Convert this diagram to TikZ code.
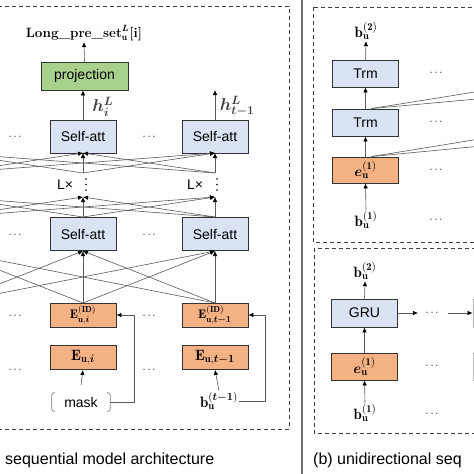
\documentclass[tikz,border=0pt]{standalone}
\usepackage{amsmath}
\usepackage{bm}
\usepackage{fontspec}
\setsansfont{Liberation Sans}
\usetikzlibrary{arrows.meta,positioning}

\definecolor{attblue}{HTML}{DAE3F3}
\definecolor{projgreen}{HTML}{A9D18E}
\definecolor{embor}{HTML}{F4B183}

\tikzset{
  blk/.style={draw=black!80,line width=0.9pt,minimum width=66pt,inner sep=0pt,font=\fontsize{14}{16}\sffamily},
  attbox/.style={blk,fill=attblue,minimum height=33pt},
  trmbox/.style={blk,fill=attblue,minimum height=27pt},
  embox/.style={blk,fill=embor,minimum height=24pt,font=\fontsize{15}{17}\selectfont},
  projbox/.style={blk,fill=projgreen,minimum width=87pt,minimum height=28pt},
  conn/.style={draw=black!65,line width=0.6pt},
  arr/.style={conn,-{Latex[length=5pt,width=4.5pt,color=black]}},
  panelframe/.style={draw=black!75,line width=1pt,dash pattern=on 4pt off 3pt},
  dotsl/.style={font=\fontsize{11}{13}\selectfont,inner sep=1pt},
  lbl/.style={font=\fontsize{15}{17}\selectfont,inner sep=1pt},
  hlbl/.style={font=\fontsize{17}{19}\selectfont,inner sep=1pt,text=black!75},
  laytext/.style={font=\fontsize{14}{16}\sffamily,inner sep=1pt},
  brk/.style={draw=black!50,line width=0.7pt,rounded corners=2pt},
  captext/.style={font=\fontsize{16}{18}\sffamily,anchor=west,inner sep=0pt},
}

\begin{document}
\begin{tikzpicture}[x=1pt,y=-1pt]
\useasboundingbox (0,0) rectangle (474,474);
\clip (0,0) rectangle (474,474);

% panel frames
\draw[panelframe] (-20,6) rectangle (289,429);
\draw[panelframe] (313,7) rectangle (490,242);
\draw[panelframe] (314,248) rectangle (490,433);
\draw[draw=black!55,line width=1.2pt] (302,-5) -- (302,480);

% (a) bidirectional
\node[projbox] (proj) at (84.5,76) {projection};
\node[lbl,font=\fontsize{13.5}{15}\selectfont] (lps) at (84,33) {$\textbf{Long\_pre\_set}^{\bm L}_{\mathbf u}\textbf{[i]}$};
\node[attbox] (sa1) at (83,136.5) {Self-att};
\node[attbox] (sa2) at (215,136.5) {Self-att};
\node[attbox] (sb1) at (83,234) {Self-att};
\node[attbox] (sb2) at (215,234) {Self-att};
\node[embox,font=\fontsize{12.5}{14}\selectfont] (eid1) at (83,315) {$\mathbf E^{\mathbf{(ID)}}_{\mathbf u,\bm i}$};
\node[embox,font=\fontsize{12.5}{14}\selectfont] (eid2) at (215,315) {$\mathbf E^{\mathbf{(ID)}}_{\mathbf u,\bm{t-1}}$};
\node[embox] (ein1) at (83,357.5) {$\mathbf E_{\mathbf u,\bm i}$};
\node[embox] (ein2) at (215,357.5) {$\mathbf E_{\mathbf u,\bm{t-1}}$};
\node[font=\fontsize{14}{16}\sffamily,minimum width=58pt,minimum height=18pt,inner sep=0pt] (mask) at (81,402) {mask};
\node[lbl] (bprev) at (219,401) {$\mathbf b^{(\bm{t-1})}_{\mathbf u}$};
\node[hlbl] (hi) at (103,107) {$\bm h^{\bm L}_{\bm i}$};
\node[hlbl] (ht) at (237,106) {$\bm h^{\bm L}_{\bm{t-1}}$};
\coordinate (out2) at (215,90);

% layer dots
\node[laytext] (lx1) at (65,185) {L×};
\node[laytext] (lx2) at (195,185) {L×};
\foreach \x in {86,217}
  \foreach \y in {179,184.5,190}
    \fill (\x,\y) circle (0.9pt);
\foreach \y in {137,235,316,370} {
  \node[dotsl] at (16,\y) {$\cdots$};
  \node[dotsl] at (150,\y) {$\cdots$};
}

% columns, the first one off the left edge
\foreach \c/\x in {1/-49,2/83,3/215} {
  \coordinate (ea\c) at (\x,303);
  \coordinate (sbb\c) at (\x,251);
  \coordinate (sbt\c) at (\x,217);
  \coordinate (lyb\c) at (\x,197);
  \coordinate (lyt\c) at (\x,173);
  \coordinate (sab\c) at (\x,153);
}
\foreach \a in {1,...,3}
  \foreach \b in {1,...,3} {
    \draw[arr] (ea\a) -- (sbb\b);
    \draw[arr] (sbt\a) -- (lyb\b);
    \draw[arr] (lyt\a) -- (sab\b);
  }

\draw[arr] (sa1.north) -- (sa1.north |- proj.south);
\draw[arr] (proj.north) -- (lps.south);
\draw[arr] (sa2.north) -- (out2);
\draw[arr] ([yshift=8pt]mask.north) -- (ein1.south);
\draw[arr] (bprev.north) -- (ein2.south);
\draw[arr] (mask.east) -- ++(24,0) |- (eid1.east);
\draw[arr] (bprev.east) -- ++(26,0) |- (eid2.east);
\draw[brk] ([xshift=3pt]mask.north west) -- (mask.north west) -- (mask.south west) -- ([xshift=3pt]mask.south west);
\draw[brk] ([xshift=-3pt]mask.north east) -- (mask.north east) -- (mask.south east) -- ([xshift=-3pt]mask.south east);

% (b) unidirectional, Trm
\node[trmbox] (trm1) at (365.5,73.5) {Trm};
\node[trmbox] (trm2) at (365.5,122.5) {Trm};
\node[embox,minimum height=26pt] (e1) at (365.5,170) {$\bm e^{\mathbf{(1)}}_{\mathbf u}$};
\node[lbl] (b1) at (366,220) {$\mathbf b^{\mathbf{(1)}}_{\mathbf u}$};
\node[lbl] (b2) at (366,31) {$\mathbf b^{\mathbf{(2)}}_{\mathbf u}$};
\foreach \y in {73,122,170,220}
  \node[dotsl] at (437,\y) {$\cdots$};
\draw[arr] (b1.north) -- (e1.south);
\draw[arr] (e1.north) -- (trm2.south);
\draw[arr] (trm2.north) -- (trm1.south);
\draw[arr] (trm1.north) -- (b2.south);
\coordinate (tra) at (506,87);
\coordinate (trb) at (610,87);
\coordinate (tma) at (498,136);
\coordinate (tmb) at (586,136);
\draw[conn] ([xshift=6pt]trm2.north) -- (tra);
\draw[conn] ([xshift=6pt]trm2.north) -- (trb);
\draw[conn] ([xshift=6pt]e1.north) -- (tma);
\draw[conn] ([xshift=6pt]e1.north) -- (tmb);

% (b) unidirectional, GRU
\node[trmbox,minimum height=28pt] (gru) at (364.5,313) {GRU};
\node[embox,minimum height=27pt] (e2) at (364.5,366.5) {$\bm e^{\mathbf{(1)}}_{\mathbf u}$};
\node[lbl] (b3) at (365,413) {$\mathbf b^{\mathbf{(1)}}_{\mathbf u}$};
\node[lbl] (b4) at (365,271) {$\mathbf b^{\mathbf{(2)}}_{\mathbf u}$};
\node[dotsl] (gd) at (433,313) {$\cdots$};
\node[dotsl] at (433,366) {$\cdots$};
\node[dotsl] at (433,414) {$\cdots$};
\node[trmbox,minimum height=28pt,draw=black!30,fill=white] (gru2) at (506,313) {};
\node[embox,minimum height=27pt,draw=black!25,fill=white] (e3) at (506,366.5) {};
\draw[arr] (b3.north) -- (e2.south);
\draw[arr] (e2.north) -- (gru.south);
\draw[arr] (gru.north) -- (b4.south);
\draw[arr] (gru.east) -- ++(20,0);
\draw[arr] ([xshift=6pt]gd.east) -- (gru2.west);

% captions
\node[captext] (capa) at (5,460) {sequential model architecture};
\node[captext] (capb) at (313,460) {(b) unidirectional seq};
\end{tikzpicture}
\end{document}
